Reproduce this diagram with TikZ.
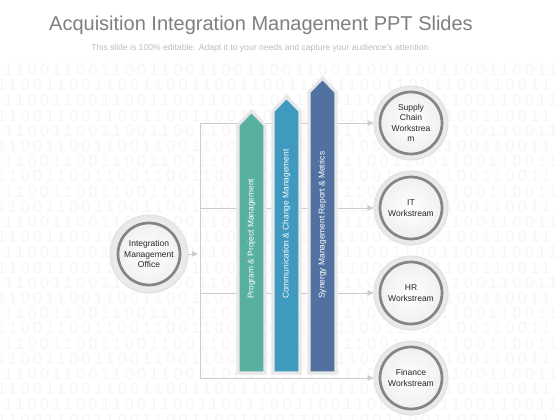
\documentclass[tikz,border=0pt]{standalone}
\usepackage{fontspec}
\setmainfont{Liberation Sans}
\newfontfamily\binfont[LetterSpace=22]{Liberation Sans}
\usepackage{tikz}
\usepackage{xcolor}
\usetikzlibrary{arrows.meta}

\definecolor{titlegray}{HTML}{7F7F7F}
\definecolor{subgray}{HTML}{BDBDBD}
\definecolor{ringgray}{HTML}{858585}
\definecolor{barA}{HTML}{58B1A0}
\definecolor{barB}{HTML}{4099BE}
\definecolor{barC}{HTML}{5172A0}

\tikzset{
  hub/.style={circle, minimum size=#1, inner sep=0pt, draw=gray!25, line width=0.8pt,
    inner color=white, outer color=gray!18, align=center, text=black!85,
    font=\fontsize{8.5}{10.5}\selectfont,
    path picture={
      \shade[inner color=white, outer color=gray!14] (path picture bounding box.center) circle (30pt);
      \draw[ringgray, line width=2.7pt] (path picture bounding box.center) circle (31pt);}},
  hub/.default=76pt,
  link/.style={draw=gray!40, line width=0.6pt},
  tip/.style={link, -{Triangle[length=6pt,width=5.5pt]}},
  bar/.style={draw=gray!18, line width=3.2pt, line join=miter},
  bartext/.style={rotate=90, anchor=west, text=white, inner sep=0pt,
    font=\fontsize{8.4}{10}\selectfont}
}

\begin{document}
\begin{tikzpicture}[x=1pt, y=-1pt]
  \useasboundingbox (0,0) rectangle (560,420);
  \fill[white] (0,0) rectangle (560,420);

  % binary backdrop
  \begin{scope}
    \clip (0,60) rectangle (560,420);
    \foreach \r in {0,...,23}{
      \pgfmathsetmacro{\off}{mod(\r,2)==0 ? 4 : -3}
      \node[anchor=west, inner sep=0pt, text=black!3.5, font=\binfont\fontsize{16}{16}\selectfont]
        (bin\r) at (\off,{70+15.2*\r}) {1100110011001100110011001100110011001100110011};
    }
  \end{scope}

  \node[text=titlegray, font=\fontsize{20}{24}\selectfont] (title) at (261,25)
    {Acquisition Integration Management PPT Slides};
  \node[text=subgray, font=\fontsize{8.6}{10}\selectfont] (sub) at (261,48)
    {This slide is 100\% editable. Adapt it to your needs and capture your audience's attention.};

  % trunk and branches
  \coordinate (tA) at (200,123);
  \coordinate (tB) at (200,208);
  \coordinate (tC) at (200,293);
  \coordinate (tD) at (200,378);
  \coordinate (tM) at (198,254);
  \draw[link] (tA) -- (tD);

  \foreach \y/\nm/\txt in {123/sc/{Supply\\Chain\\Workstrea\\m}, 208/it/{IT\\Workstream},
                           293/hr/{HR\\Workstream}, 378/fi/{Finance\\Workstream}}{
    \node[hub=74pt] (\nm) at (411,\y) {\txt};
  }
  \draw[tip] (tA) -- (sc);
  \draw[tip] (tB) -- (it);
  \draw[tip] (tC) -- (hr);
  \draw[tip] (tD) -- (fi);

  \node[hub=78pt] (imo) at (149,254) {Integration\\Management\\Office};
  \draw[tip] (imo) -- (tM);

  % arrows
  \foreach \cx/\tp/\col/\nm/\txt in {251.5/111/barA/pm/Program \& Project Management,
      286.5/97/barB/cm/Communication \& Change Management,
      322.5/78/barC/sm/Synergy Management Report \& Metrics}{
    \filldraw[bar, fill=\col] (\cx-13.5,373) -- (\cx-13.5,\tp+14) -- (\cx,\tp)
      -- (\cx+13.5,\tp+14) -- (\cx+13.5,373) -- cycle;
    \node[bartext] (\nm) at (\cx,299) {\txt};
  }
\end{tikzpicture}
\end{document}
